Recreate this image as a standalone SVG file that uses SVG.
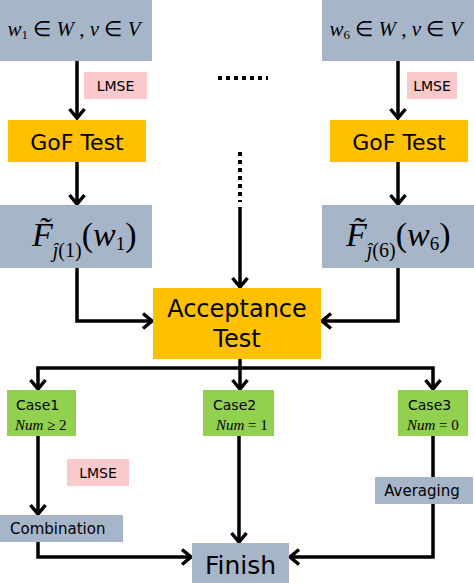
<svg xmlns="http://www.w3.org/2000/svg" width="474" height="583" viewBox="0 0 474 583">
<defs>
<style>
.blue{fill:#a7b5c9}
.orange{fill:#ffc000}
.green{fill:#92d050}
.pink{fill:#f9c9cb}
.sans{font-family:"DejaVu Sans","Verdana",sans-serif;fill:#000}
.math{font-family:"Liberation Serif","Times New Roman",serif;font-style:italic;fill:#000}
.up{font-style:normal}
.ln{fill:none;stroke:#000;stroke-width:3.5}
.dot{fill:none;stroke:#000;stroke-width:4;stroke-dasharray:4 4}
</style>
<marker id="ah" markerUnits="userSpaceOnUse" markerWidth="20" markerHeight="20" refX="0" refY="0" viewBox="-12 -10 14 20" orient="auto">
<path d="M-9,-7.5 L0,0 L-9,7.5" fill="none" stroke="#000" stroke-width="3.5"/>
</marker>
</defs>
<rect width="474" height="583" fill="#fff"/>

<g id="connectors">
<line class="ln" x1="77" y1="61" x2="77" y2="118" marker-end="url(#ah)"/>
<line class="ln" x1="398" y1="61" x2="398" y2="118" marker-end="url(#ah)"/>
<line class="ln" x1="77" y1="162" x2="77" y2="204" marker-end="url(#ah)"/>
<line class="ln" x1="398" y1="162" x2="398" y2="204" marker-end="url(#ah)"/>
<polyline class="ln" points="77,268 77,321 152,321" marker-end="url(#ah)"/>
<polyline class="ln" points="398,268 398,321 322,321" marker-end="url(#ah)"/>
<line class="dot" x1="218" y1="78" x2="268" y2="78"/>
<line class="dot" x1="240" y1="152" x2="240" y2="202"/>
<line class="ln" x1="240" y1="207" x2="240" y2="287" marker-end="url(#ah)"/>
<line class="ln" x1="240" y1="359" x2="240" y2="389" marker-end="url(#ah)"/>
<polyline class="ln" points="36.25,368 433,368 433,389" marker-end="url(#ah)"/>
<line class="ln" x1="38" y1="368" x2="38" y2="389" marker-end="url(#ah)"/>
<line class="ln" x1="38" y1="436" x2="38" y2="514" marker-end="url(#ah)"/>
<line class="ln" x1="239" y1="436" x2="239" y2="542" marker-end="url(#ah)"/>
<polyline class="ln" points="38,542 38,557 191,557" marker-end="url(#ah)"/>
<line class="ln" x1="433" y1="436" x2="433" y2="477"/>
<polyline class="ln" points="433,504 433,557 290,557" marker-end="url(#ah)"/>
</g>

<g id="input1">
<rect class="blue" x="0" y="0" width="152" height="61"/>
<text class="math" x="74" y="36" font-size="21" text-anchor="middle">w<tspan class="up" font-size="13" dy="3">1</tspan><tspan class="up" dy="-3"> ∈ </tspan>W<tspan class="up"> , </tspan>v<tspan class="up"> ∈ </tspan>V</text>
</g>
<g id="input6">
<rect class="blue" x="322" y="0" width="152" height="61"/>
<text class="math" x="396" y="36" font-size="21" text-anchor="middle">w<tspan class="up" font-size="13" dy="3">6</tspan><tspan class="up" dy="-3"> ∈ </tspan>W<tspan class="up"> , </tspan>v<tspan class="up"> ∈ </tspan>V</text>
</g>
<g id="lmse1">
<rect class="pink" x="84" y="72" width="63" height="27"/>
<text class="sans" x="115.5" y="91" font-size="14" text-anchor="middle">LMSE</text>
</g>
<g id="lmse6">
<rect class="pink" x="407" y="72" width="50" height="27"/>
<text class="sans" x="432" y="91" font-size="14" text-anchor="middle">LMSE</text>
</g>
<g id="gof1">
<rect class="orange" x="8" y="120" width="138" height="42"/>
<text class="sans" x="77" y="150" font-size="22" text-anchor="middle">GoF Test</text>
</g>
<g id="gof6">
<rect class="orange" x="330" y="120" width="138" height="42"/>
<text class="sans" x="399" y="150" font-size="22" text-anchor="middle">GoF Test</text>
</g>
<g id="f1">
<rect class="blue" x="0" y="205" width="152" height="63"/>
<text class="math" x="32" y="246" font-size="34">F̃<tspan font-size="20" dy="11">ĵ<tspan class="up">(1)</tspan></tspan><tspan class="up" dy="-11">(</tspan>w<tspan class="up" font-size="19" dy="4">1</tspan><tspan class="up" dy="-4">)</tspan></text>
</g>
<g id="f6">
<rect class="blue" x="322" y="205" width="152" height="63"/>
<text class="math" x="346" y="246" font-size="34">F̃<tspan font-size="20" dy="11">ĵ<tspan class="up">(6)</tspan></tspan><tspan class="up" dy="-11">(</tspan>w<tspan class="up" font-size="19" dy="4">6</tspan><tspan class="up" dy="-4">)</tspan></text>
</g>
<g id="acceptance">
<rect class="orange" x="153" y="288" width="168" height="71"/>
<text class="sans" x="237" y="317" font-size="24" text-anchor="middle">Acceptance</text>
<text class="sans" x="237" y="347" font-size="24" text-anchor="middle">Test</text>
</g>
<g id="case1">
<rect class="green" x="7" y="390" width="69" height="46"/>
<text class="sans" x="16" y="410" font-size="14">Case1</text>
<text class="math" x="15" y="430" font-size="15">Num<tspan class="up"> ≥ 2</tspan></text>
</g>
<g id="case2">
<rect class="green" x="203" y="390" width="71" height="46"/>
<text class="sans" x="213" y="410" font-size="14">Case2</text>
<text class="math" x="216" y="430" font-size="15">Num<tspan class="up"> = 1</tspan></text>
</g>
<g id="case3">
<rect class="green" x="398" y="390" width="70" height="46"/>
<text class="sans" x="408" y="410" font-size="14">Case3</text>
<text class="math" x="407" y="430" font-size="15">Num<tspan class="up"> = 0</tspan></text>
</g>
<g id="lmse-case1">
<rect class="pink" x="67" y="459" width="62" height="27"/>
<text class="sans" x="98" y="478" font-size="14" text-anchor="middle">LMSE</text>
</g>
<g id="combination">
<rect class="blue" x="0" y="515" width="123" height="27"/>
<text class="sans" x="10" y="534" font-size="15">Combination</text>
</g>
<g id="averaging">
<rect class="blue" x="375" y="477" width="98" height="27"/>
<text class="sans" x="422" y="496" font-size="15" text-anchor="middle">Averaging</text>
</g>
<g id="finish">
<rect class="blue" x="192" y="543" width="97" height="40"/>
<text class="sans" x="240.5" y="574" font-size="25" text-anchor="middle">Finish</text>
</g>
</svg>
